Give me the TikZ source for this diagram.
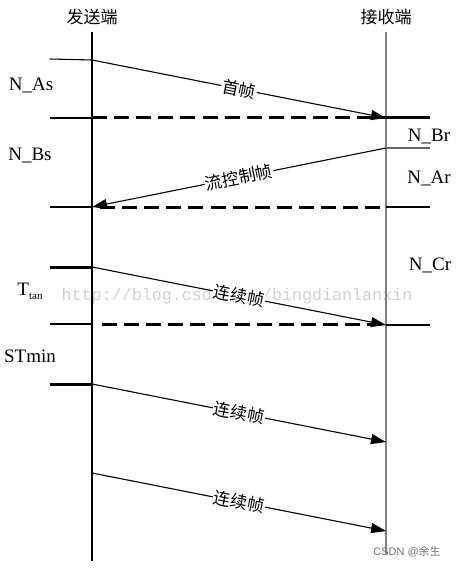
\documentclass[tikz,border=0pt]{standalone}
\usepackage{fontspec}
\setmainfont{Liberation Serif}
\newfontfamily\cjk{Noto Sans CJK SC}
\newfontfamily\wmfont{Liberation Mono}
\newfontfamily\sansf{Liberation Sans}
\usetikzlibrary{arrows.meta}
\tikzset{
  thinln/.style={line width=1.1pt},
  thickln/.style={line width=3pt},
  dashln/.style={line width=3pt, dash pattern=on 15pt off 7.1pt},
  msg/.style={line width=1.1pt, -{Triangle[length=15pt,width=10pt]}},
  lbl/.style={fill=white, inner sep=1pt, sloped, font=\cjk\fontsize{17}{17}\selectfont},
  side/.style={inner sep=0pt, font=\fontsize{19}{19}\selectfont},
  head/.style={inner sep=0pt, font=\cjk\fontsize{17}{17}\selectfont},
  wm/.style={inner sep=0pt, text=black!18, font=\wmfont\fontsize{16.7}{16.7}\selectfont},
  lifeR/.style={line width=1.1pt, draw=black!50}
}
\begin{document}
\begin{tikzpicture}[x=1pt,y=-1pt]
\useasboundingbox[fill=white] (0,0) rectangle (456,569);
% watermark
\node[wm] (wm) at (237,296) {http://blog.csdn.net/bingdianlanxin};
\node[inner sep=0pt, text=black!55] (csdn) at (407,552) {\fontsize{11}{11}\selectfont\sansf CSDN @\cjk 余生};
% headings
\node[head] (snd) at (92,17) {发送端};
\node[head] (rcv) at (386,17) {接收端};
% lifelines
\coordinate (sTop) at (92,32);
\coordinate (sBot) at (92,561);
\coordinate (rTop) at (386,32);
\coordinate (rBot) at (386,555);
\draw[thinln] (sTop) -- (sBot);
\draw[lifeR] (rTop) -- (rBot);
% coordinates
\coordinate (a0) at (50,59);
\coordinate (a1) at (92,60);
\coordinate (a2) at (386,118);
\coordinate (b0) at (50,118);
\coordinate (b1) at (92,118);
\coordinate (b2) at (430,118);
\coordinate (c0) at (386,148);
\coordinate (c1) at (430,148);
\coordinate (c2) at (92,207);
\coordinate (d0) at (50,207);
\coordinate (d1) at (100,207);
\coordinate (d2) at (380,207);
\coordinate (d3) at (386,207);
\coordinate (d4) at (430,207);
\coordinate (e0) at (50,267);
\coordinate (e1) at (92,267);
\coordinate (e2) at (386,325);
\coordinate (f0) at (50,324);
\coordinate (f1) at (92,324);
\coordinate (f2) at (102,324);
\coordinate (f3) at (380,324);
\coordinate (f4) at (386,325);
\coordinate (f5) at (430,325);
\coordinate (g0) at (50,384);
\coordinate (g1) at (92,384);
\coordinate (g2) at (386,442);
\coordinate (h1) at (92,473);
\coordinate (h2) at (386,531);
% first frame
\draw[thinln] (a0) -- (a1);
\draw[thinln] (b0) -- (b1);
\draw[dashln] (b1) -- (a2);
\draw[thickln] (a2) -- (b2);
\draw[msg] (a1) -- node[lbl] (lbA) {首帧} (a2);
% flow control
\draw[thinln, draw=black!60] (c0) -- (c1);
\draw[thinln] (d0) -- (c2);
\draw[dashln] (d1) -- (d2);
\draw[thinln] (d3) -- (d4);
\draw[msg] (c0) -- node[lbl] (lbB) {流控制帧} (c2);
% consecutive 1
\draw[thickln] (e0) -- (e1);
\draw[thinln] (f0) -- (f1);
\draw[dashln] (f2) -- (f3);
\draw[thinln] (f4) -- (f5);
\draw[msg] (e1) -- node[lbl] (lbC) {连续帧} (e2);
% consecutive 2
\draw[thickln] (g0) -- (g1);
\draw[msg] (g1) -- node[lbl] (lbD) {连续帧} (g2);
% consecutive 3
\draw[msg] (h1) -- node[lbl] (lbE) {连续帧} (h2);
% side labels
\node[side] (nas) at (31,85) {N\_As};
\node[side] (nbs) at (30,156) {N\_Bs};
\node[side] (ttan) at (30,291) {T\raisebox{-0.45ex}{\fontsize{11}{11}\selectfont tan}};
\node[side] (stmin) at (30,356) {STmin};
\node[side] (nbr) at (429,137) {N\_Br};
\node[side] (nar) at (429,178) {N\_Ar};
\node[side] (ncr) at (430,265) {N\_Cr};
\end{tikzpicture}
\end{document}
